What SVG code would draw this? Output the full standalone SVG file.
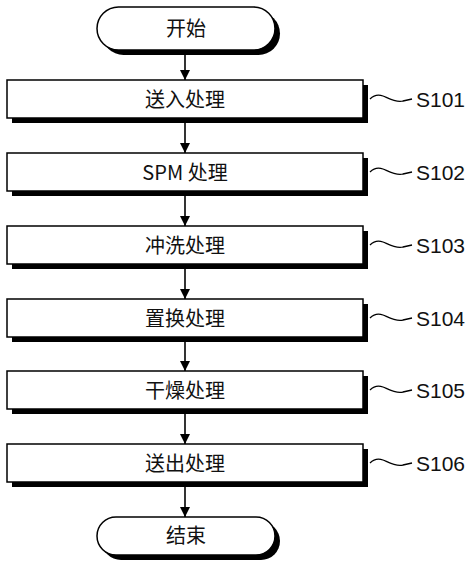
<svg xmlns="http://www.w3.org/2000/svg" width="474" height="568" viewBox="0 0 474 568">
<defs>
<style>
.sh{fill:#000}
.bx{fill:#fff;stroke:#000;stroke-width:1.5}
.t{font-family:"Noto Sans CJK SC","Noto Sans",sans-serif;font-size:20px;text-anchor:middle;fill:#111}
.s{font-family:"Liberation Sans","Noto Sans",sans-serif;font-size:21px;fill:#111}
.ln{stroke:#000;stroke-width:1.6;fill:none}
.tl{stroke:#000;stroke-width:1.3;fill:none}
</style>
<marker id="ah" viewBox="0 0 10 10" refX="10" refY="5" markerWidth="10" markerHeight="10" markerUnits="userSpaceOnUse" orient="auto">
<path d="M0,0 L10,5 L0,10 z" fill="#000"/>
</marker>
</defs>
<rect width="474" height="568" fill="#fff"/>
<g id="connectors">
<line class="ln" x1="185" y1="50" x2="185" y2="80" marker-end="url(#ah)"/>
<line class="ln" x1="185" y1="122" x2="185" y2="153" marker-end="url(#ah)"/>
<line class="ln" x1="185" y1="195" x2="185" y2="226" marker-end="url(#ah)"/>
<line class="ln" x1="185" y1="268" x2="185" y2="299" marker-end="url(#ah)"/>
<line class="ln" x1="185" y1="341" x2="185" y2="371" marker-end="url(#ah)"/>
<line class="ln" x1="185" y1="413" x2="185" y2="444" marker-end="url(#ah)"/>
<line class="ln" x1="185" y1="486" x2="185" y2="517" marker-end="url(#ah)"/>
<path class="tl" d="M370,99 C374,95 378,94 383,96 S396,103 403,101 L412,99"/>
<path class="tl" d="M370,172 C374,168 378,167 383,169 S396,176 403,174 L412,172"/>
<path class="tl" d="M370,245 C374,241 378,240 383,242 S396,249 403,247 L412,245"/>
<path class="tl" d="M370,318 C374,314 378,313 383,315 S396,322 403,320 L412,318"/>
<path class="tl" d="M370,390 C374,386 378,385 383,387 S396,394 403,392 L412,390"/>
<path class="tl" d="M370,463 C374,459 378,458 383,460 S396,467 403,465 L412,463"/>
</g>
<g id="start">
<rect class="sh" x="102" y="12" width="178" height="43" rx="21.5"/>
<rect class="bx" x="97" y="7" width="178" height="43" rx="21.5"/>
<text class="t" x="186" y="36">开始</text>
</g>
<g id="s101">
<rect class="sh" x="12" y="85" width="356" height="38"/>
<rect class="bx" x="7" y="80" width="356" height="38"/>
<text class="t" x="185" y="107">送入处理</text>
<text class="s" x="416" y="107">S101</text>
</g>
<g id="s102">
<rect class="sh" x="12" y="158" width="356" height="38"/>
<rect class="bx" x="7" y="153" width="356" height="38"/>
<text class="t" x="185" y="180">SPM 处理</text>
<text class="s" x="416" y="180">S102</text>
</g>
<g id="s103">
<rect class="sh" x="12" y="231" width="356" height="38"/>
<rect class="bx" x="7" y="226" width="356" height="38"/>
<text class="t" x="185" y="253">冲洗处理</text>
<text class="s" x="416" y="253">S103</text>
</g>
<g id="s104">
<rect class="sh" x="12" y="304" width="356" height="38"/>
<rect class="bx" x="7" y="299" width="356" height="38"/>
<text class="t" x="185" y="326">置换处理</text>
<text class="s" x="416" y="326">S104</text>
</g>
<g id="s105">
<rect class="sh" x="12" y="376" width="356" height="38"/>
<rect class="bx" x="7" y="371" width="356" height="38"/>
<text class="t" x="185" y="398">干燥处理</text>
<text class="s" x="416" y="398">S105</text>
</g>
<g id="s106">
<rect class="sh" x="12" y="449" width="356" height="38"/>
<rect class="bx" x="7" y="444" width="356" height="38"/>
<text class="t" x="185" y="471">送出处理</text>
<text class="s" x="416" y="471">S106</text>
</g>
<g id="end">
<rect class="sh" x="102" y="522" width="178" height="38" rx="19"/>
<rect class="bx" x="97" y="517" width="178" height="38" rx="19"/>
<text class="t" x="186" y="543">结束</text>
</g>
</svg>
